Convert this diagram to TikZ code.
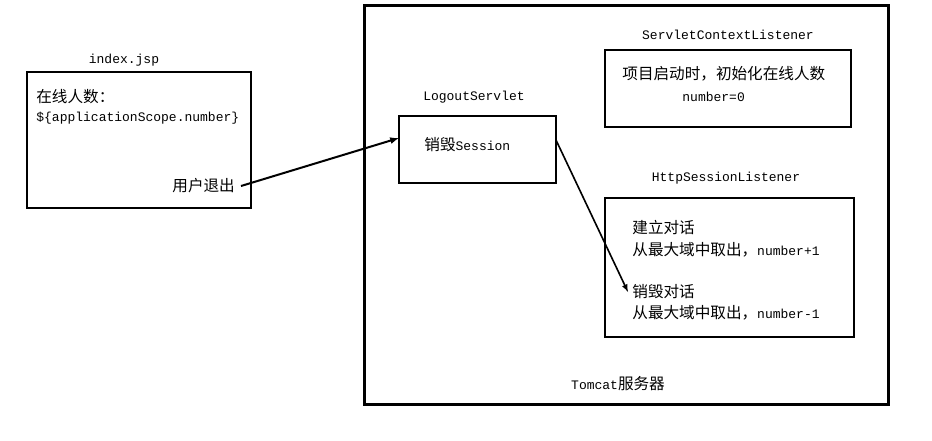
\documentclass[tikz,border=0pt]{standalone}
\usepackage{fontspec}
\setmainfont{Liberation Mono}
\newfontfamily\cjk[Scale=1.2]{Noto Sans CJK SC}
\usetikzlibrary{positioning,arrows}
\begin{document}
\begin{tikzpicture}[x=1pt,y=-1pt,thick,
    box/.style={draw,line width=1.6pt},
    txt/.style={anchor=west,inner sep=0pt,font=\fontsize{13}{15}\selectfont},
    ttl/.style={inner sep=0pt,font=\fontsize{13}{15}\selectfont}]
   \useasboundingbox (0,0) rectangle (932,440);
   % boxes
   \draw[box] (27,72) rectangle (251,208);
   \draw[line width=3pt] (364,5) rectangle (888,404);
   \draw[box] (399,116) rectangle (556,183);
   \draw[box] (605,50) rectangle (851,127);
   \draw[box] (605,198) rectangle (854,337);
   % titles
   \node[ttl] (index) at (124,60) {index.jsp};
   \node[ttl] (logout) at (474,97) {LogoutServlet};
   \node[ttl] (ctx) at (728,35) {ServletContextListener};
   \node[ttl] (http) at (726,178) {HttpSessionListener};
   \node[ttl] (tomcat) at (618,384) {Tomcat{\cjk 服务器}};
   % texts
   \node[txt] (online) at (36,97) {{\cjk 在线人数：}};
   \node[txt] (expr) at (36,118) {\$\{applicationScope.number\}};
   \node[txt] (quit) at (172,186) {{\cjk 用户退出}};
   \node[txt] (destroy) at (424,145) {{\cjk 销毁}Session};
   \node[txt] (start) at (622,74) {{\cjk 项目启动时，初始化在线人数}};
   \node[txt] (zero) at (682,97) {number=0};
   \node[txt] (create) at (632,228) {{\cjk 建立对话}};
   \node[txt] (plus) at (632,250) {{\cjk 从最大域中取出，}number+1};
   \node[txt] (kill) at (632,292) {{\cjk 销毁对话}};
   \node[txt] (minus) at (632,313) {{\cjk 从最大域中取出，}number-1};
   % connectors
   \coordinate (qend) at (241,186);
   \coordinate (lin) at (399,138);
   \coordinate (lout) at (556,140);
   \coordinate (kin) at (628,292);
   \draw[-latex,line width=2pt] (qend) -- (lin);
   \draw[-latex,line width=1.6pt] (lout) -- (kin);
\end{tikzpicture}
\end{document}
